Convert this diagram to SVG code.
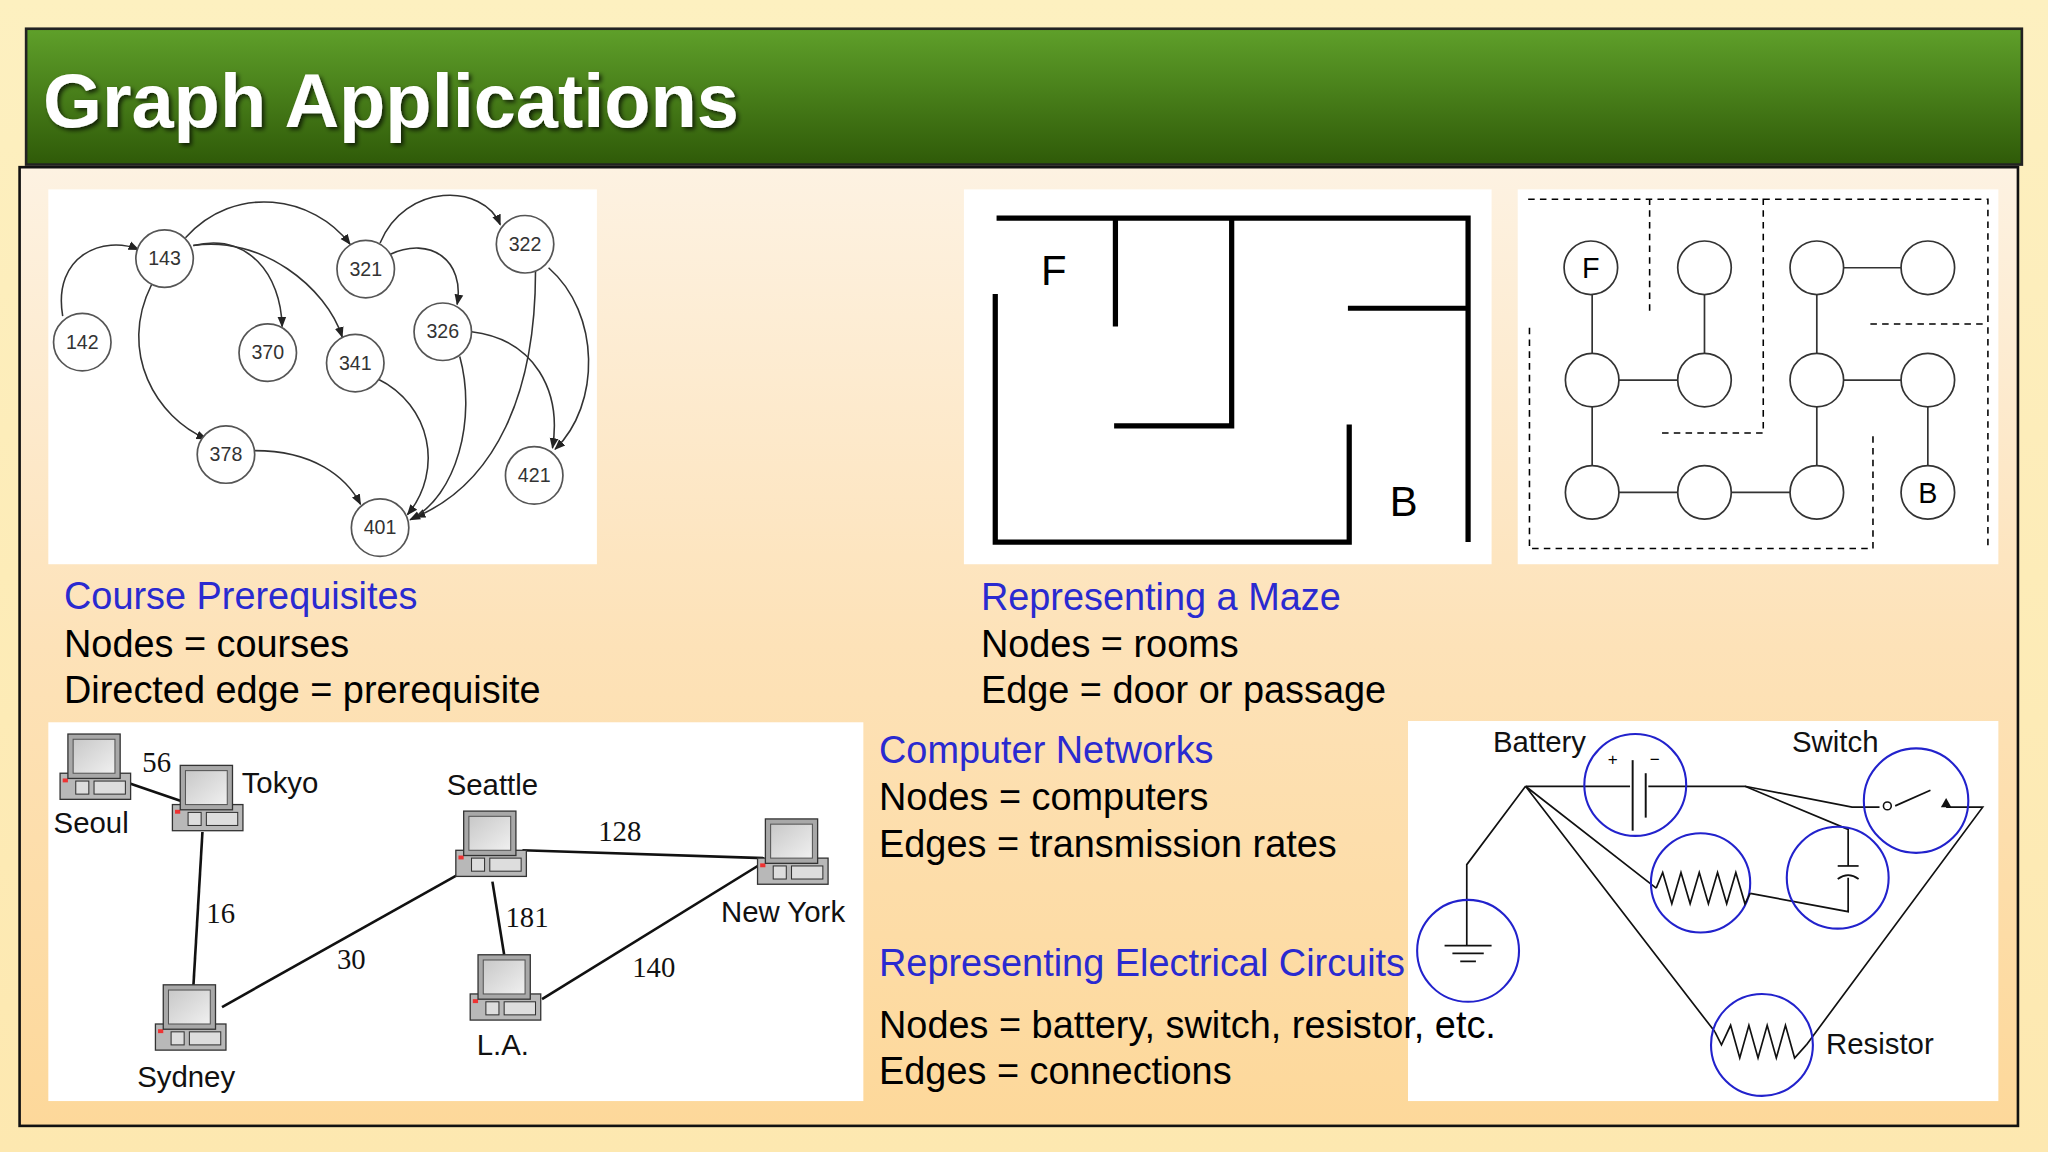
<svg xmlns="http://www.w3.org/2000/svg" width="2048" height="1152" viewBox="0 0 2048 1152">
<defs>
<linearGradient id="bg" x1="0" y1="0" x2="0" y2="1"><stop offset="0" stop-color="#fdf0c0"/><stop offset="1" stop-color="#fde8b0"/></linearGradient>
<linearGradient id="panel" x1="0" y1="0" x2="0" y2="1"><stop offset="0" stop-color="#fdf2e2"/><stop offset="0.5" stop-color="#fde2b8"/><stop offset="1" stop-color="#fdd89a"/></linearGradient>
<linearGradient id="green" x1="0" y1="0" x2="0" y2="1"><stop offset="0" stop-color="#5fa02a"/><stop offset="1" stop-color="#2f5a08"/></linearGradient>
<linearGradient id="scr" x1="0" y1="0" x2="1" y2="1"><stop offset="0" stop-color="#c8c8c8"/><stop offset="1" stop-color="#f0f0f0"/></linearGradient>
<marker id="ar" viewBox="0 0 10 10" refX="9" refY="5" markerWidth="7" markerHeight="7" orient="auto"><path d="M0,1 L10,5 L0,9 z" fill="#222"/></marker>
<g id="pc">
<rect x="0" y="30" width="54" height="20" fill="#b8b8b8" stroke="#333" stroke-width="1"/>
<rect x="2" y="34" width="4" height="3" fill="#e33"/>
<rect x="12" y="36" width="10" height="10" fill="#ddd" stroke="#333" stroke-width="0.8"/>
<rect x="26" y="36" width="24" height="10" fill="#ddd" stroke="#333" stroke-width="0.8"/>
<rect x="6" y="0" width="40" height="34" fill="#a8a8a8" stroke="#333" stroke-width="1"/>
<rect x="10" y="4" width="32" height="26" fill="url(#scr)" stroke="#555" stroke-width="0.8"/>
</g>
<filter id="sh"><feDropShadow dx="2" dy="2" stdDeviation="1.5" flood-color="#000" flood-opacity="0.7"/></filter>
</defs>
<style>
.h{font-family:"Liberation Sans",Arial,sans-serif;font-size:29px;fill:#2a2ad0}
.b{font-family:"Liberation Sans",Arial,sans-serif;font-size:29px;fill:#000}
.n{font-family:"Liberation Sans",Arial,sans-serif;font-size:15px;fill:#333;text-anchor:middle}
.lbl{font-family:"Liberation Sans",Arial,sans-serif;font-size:22.5px;fill:#111}
.num{font-family:"Liberation Serif","Times New Roman",serif;font-size:22px;fill:#111}
.nd{fill:#fff;stroke:#555;stroke-width:1.3}
.e{fill:none;stroke:#333;stroke-width:1.2;marker-end:url(#ar)}
.wall{stroke:#000;stroke-width:4;fill:none}
.dash{stroke:#000;stroke-width:1.2;stroke-dasharray:5,4;fill:none}
.mn{fill:#fff;stroke:#333;stroke-width:1.3}
.me{stroke:#333;stroke-width:1.3}
.ckt{fill:none;stroke:#111;stroke-width:1.3}
.bc{fill:none;stroke:#2222cc;stroke-width:1.6}
</style>
<g transform="scale(1.30612)">
<rect width="1568" height="882" fill="url(#bg)"/>
<g id="header">
<rect x="20" y="22" width="1528" height="104" fill="url(#green)" stroke="#222" stroke-width="2"/>
<text x="33" y="97" font-family="Liberation Sans,Arial,sans-serif" font-weight="bold" font-size="58" fill="#fff" filter="url(#sh)">Graph Applications</text>
</g>
<rect x="15" y="128" width="1530" height="734" fill="url(#panel)" stroke="#111" stroke-width="2"/>

<g id="courses">
<rect x="37" y="145" width="420" height="287" fill="#fff"/>
<g id="course-edges">
<path class="e" d="M48,242 C40,195 80,180 106,191"/>
<path class="e" d="M142,182 C180,140 240,150 268,187"/>
<path class="e" d="M148,188 C190,178 215,210 216,250"/>
<path class="e" d="M148,188 C200,180 250,220 262,258"/>
<path class="e" d="M116,218 C90,270 120,320 158,336"/>
<path class="e" d="M291,186 C310,140 370,140 383,172"/>
<path class="e" d="M298,195 C330,180 356,200 350,233"/>
<path class="e" d="M289,290 C330,310 340,360 312,394"/>
<path class="e" d="M410,208 C410,300 380,370 318,396"/>
<path class="e" d="M352,273 C365,320 350,380 314,398"/>
<path class="e" d="M420,205 C460,240 460,310 425,344"/>
<path class="e" d="M361,254 C410,260 430,300 423,343"/>
<path class="e" d="M195,345 C240,345 265,365 276,386"/>
</g>
<g id="n142"><circle class="nd" cx="63" cy="262" r="22"/><text class="n" x="63" y="267">142</text></g>
<g id="n143"><circle class="nd" cx="126" cy="198" r="22"/><text class="n" x="126" y="203">143</text></g>
<g id="n370"><circle class="nd" cx="205" cy="270" r="22"/><text class="n" x="205" y="275">370</text></g>
<g id="n321"><circle class="nd" cx="280" cy="206" r="22"/><text class="n" x="280" y="211">321</text></g>
<g id="n341"><circle class="nd" cx="272" cy="278" r="22"/><text class="n" x="272" y="283">341</text></g>
<g id="n322"><circle class="nd" cx="402" cy="187" r="22"/><text class="n" x="402" y="192">322</text></g>
<g id="n326"><circle class="nd" cx="339" cy="254" r="22"/><text class="n" x="339" y="259">326</text></g>
<g id="n378"><circle class="nd" cx="173" cy="348" r="22"/><text class="n" x="173" y="353">378</text></g>
<g id="n421"><circle class="nd" cx="409" cy="364" r="22"/><text class="n" x="409" y="369">421</text></g>
<g id="n401"><circle class="nd" cx="291" cy="404" r="22"/><text class="n" x="291" y="409">401</text></g>
</g>
<g id="course-text">
<text class="h" x="49" y="466">Course Prerequisites</text>
<text class="b" x="49" y="503">Nodes = courses</text>
<text class="b" x="49" y="538">Directed edge = prerequisite</text>
</g>

<g id="maze">
<rect x="738" y="145" width="404" height="287" fill="#fff"/>
<path class="wall" d="M763,167 H1124 V415 M854,167 V250 M943,167 V327 M853,326 H945 M1032,236 H1124 M762,225 V415 H1035 M1033,325 V415"/>
<text x="797" y="218" font-family="Liberation Sans,Arial,sans-serif" font-size="32">F</text>
<text x="1064" y="395" font-family="Liberation Sans,Arial,sans-serif" font-size="32">B</text>
</g>

<g id="maze-graph">
<rect x="1162" y="145" width="368" height="287" fill="#fff"/>
<path class="dash" d="M1170,152.5 H1522 V421 M1263,152 V242 M1350,152 V331.5 H1269 M1432,248 H1522 M1171,251 V420 H1434 V333"/>
<g id="maze-edges">
<line class="me" x1="1219" y1="205" x2="1219" y2="377"/>
<line class="me" x1="1219" y1="291" x2="1305" y2="291"/>
<line class="me" x1="1305" y1="205" x2="1305" y2="291"/>
<line class="me" x1="1219" y1="377" x2="1391" y2="377"/>
<line class="me" x1="1391" y1="205" x2="1391" y2="377"/>
<line class="me" x1="1391" y1="205" x2="1476" y2="205"/>
<line class="me" x1="1391" y1="291" x2="1476" y2="291"/>
<line class="me" x1="1476" y1="291" x2="1476" y2="377"/>
</g>
<g id="m1"><circle class="mn" cx="1218" cy="205" r="20.5"/><text x="1218" y="213" text-anchor="middle" font-family="Liberation Sans,Arial,sans-serif" font-size="22">F</text></g>
<g id="m2"><circle class="mn" cx="1305" cy="205" r="20.5"/></g>
<g id="m3"><circle class="mn" cx="1391" cy="205" r="20.5"/></g>
<g id="m4"><circle class="mn" cx="1476" cy="205" r="20.5"/></g>
<g id="m5"><circle class="mn" cx="1219" cy="291" r="20.5"/></g>
<g id="m6"><circle class="mn" cx="1305" cy="291" r="20.5"/></g>
<g id="m7"><circle class="mn" cx="1391" cy="291" r="20.5"/></g>
<g id="m8"><circle class="mn" cx="1476" cy="291" r="20.5"/></g>
<g id="m9"><circle class="mn" cx="1219" cy="377" r="20.5"/></g>
<g id="m10"><circle class="mn" cx="1305" cy="377" r="20.5"/></g>
<g id="m11"><circle class="mn" cx="1391" cy="377" r="20.5"/></g>
<g id="m12"><circle class="mn" cx="1476" cy="377" r="20.5"/><text x="1476" y="385" text-anchor="middle" font-family="Liberation Sans,Arial,sans-serif" font-size="22">B</text></g>
</g>
<g id="maze-text">
<text class="h" x="751" y="467">Representing a Maze</text>
<text class="b" x="751" y="503">Nodes = rooms</text>
<text class="b" x="751" y="538">Edge = door or passage</text>
</g>

<g id="network">
<rect x="37" y="553" width="624" height="290" fill="#fff"/>
<g id="net-edges" stroke="#111" stroke-width="2">
<line x1="100" y1="600" x2="138" y2="613"/>
<line x1="155" y1="637" x2="148" y2="756"/>
<line x1="170" y1="771" x2="350" y2="670"/>
<line x1="400" y1="651" x2="585" y2="657"/>
<line x1="377" y1="675" x2="386" y2="731"/>
<line x1="415" y1="765" x2="585" y2="660"/>
</g>
<g id="seoul"><use href="#pc" x="46" y="562"/><text class="lbl" x="41" y="638">Seoul</text></g>
<g id="tokyo"><use href="#pc" x="132" y="586"/><text class="lbl" x="185" y="607">Tokyo</text></g>
<g id="seattle"><use href="#pc" x="349" y="621"/><text class="lbl" x="342" y="609">Seattle</text></g>
<g id="newyork"><use href="#pc" x="580" y="627"/><text class="lbl" x="552" y="706">New York</text></g>
<g id="la"><use href="#pc" x="360" y="731"/><text class="lbl" x="365" y="808">L.A.</text></g>
<g id="sydney"><use href="#pc" x="119" y="754"/><text class="lbl" x="105" y="832">Sydney</text></g>
<text class="num" x="109" y="591">56</text>
<text class="num" x="158" y="707">16</text>
<text class="num" x="258" y="742">30</text>
<text class="num" x="458" y="644">128</text>
<text class="num" x="387" y="710">181</text>
<text class="num" x="484" y="748">140</text>
</g>
<g id="net-text">
<text class="h" x="673" y="584">Computer Networks</text>
<text class="b" x="673" y="620">Nodes = computers</text>
<text class="b" x="673" y="656">Edges = transmission rates</text>
</g>

<g id="circuit">
<rect x="1078" y="552" width="452" height="291" fill="#fff"/>
<g id="wires">
<path class="ckt" d="M1168,602 H1248 M1262,602 H1336 L1418,618 H1439 M1451,617 L1478,605 M1490,618 H1518 L1383,800"/>
<path class="ckt" d="M1168,602 L1313,790 M1168,602 L1268,680 M1340,684 L1415,698 V672 M1415,663 V635 L1336,602 M1168,602 L1123,662 V724"/>
</g>
<g id="battery"><circle class="bc" cx="1252" cy="601" r="39"/>
<line x1="1250" y1="582" x2="1250" y2="636" stroke="#111" stroke-width="1.5"/>
<line x1="1260" y1="592" x2="1260" y2="626" stroke="#111" stroke-width="1.5"/>
<text x="1231" y="586" font-family="Liberation Sans,Arial,sans-serif" font-size="13">+</text>
<text x="1263" y="586" font-family="Liberation Sans,Arial,sans-serif" font-size="13">−</text>
<text class="lbl" x="1143" y="576">Battery</text></g>
<g id="switch"><circle class="bc" cx="1467" cy="613" r="40"/>
<circle cx="1445" cy="617" r="3" fill="#fff" stroke="#111" stroke-width="1.2"/>
<path d="M1486,618 L1490,611 L1494,618 z" fill="#111"/>
<text class="lbl" x="1372" y="576">Switch</text></g>
<g id="resistor1"><circle class="bc" cx="1302" cy="676" r="38"/>
<path class="ckt" d="M1268,680 L1273,668 L1280,692 L1287,668 L1294,692 L1301,668 L1308,692 L1315,668 L1322,692 L1329,668 L1336,692 L1340,684"/></g>
<g id="capacitor"><circle class="bc" cx="1407" cy="672" r="39"/>
<line x1="1407" y1="663" x2="1423" y2="663" stroke="#111" stroke-width="1.3"/>
<path class="ckt" d="M1407,673 Q1415,667 1423,673"/></g>
<g id="ground"><circle class="bc" cx="1124" cy="728" r="39"/>
<path class="ckt" d="M1106,724 H1142 M1112,730 H1136 M1118,736 H1130"/></g>
<g id="resistor2"><circle class="bc" cx="1349" cy="800" r="39"/>
<path class="ckt" d="M1313,790 L1318,800 L1325,785 L1332,810 L1339,785 L1346,810 L1353,785 L1360,810 L1367,785 L1374,810 L1383,800"/>
<text class="lbl" x="1398" y="807">Resistor</text></g>
</g>
<g id="circuit-text">
<text class="h" x="673" y="747">Representing Electrical Circuits</text>
<text class="b" x="673" y="795">Nodes = battery, switch, resistor, etc.</text>
<text class="b" x="673" y="830">Edges = connections</text>
</g>
</g>
</svg>
